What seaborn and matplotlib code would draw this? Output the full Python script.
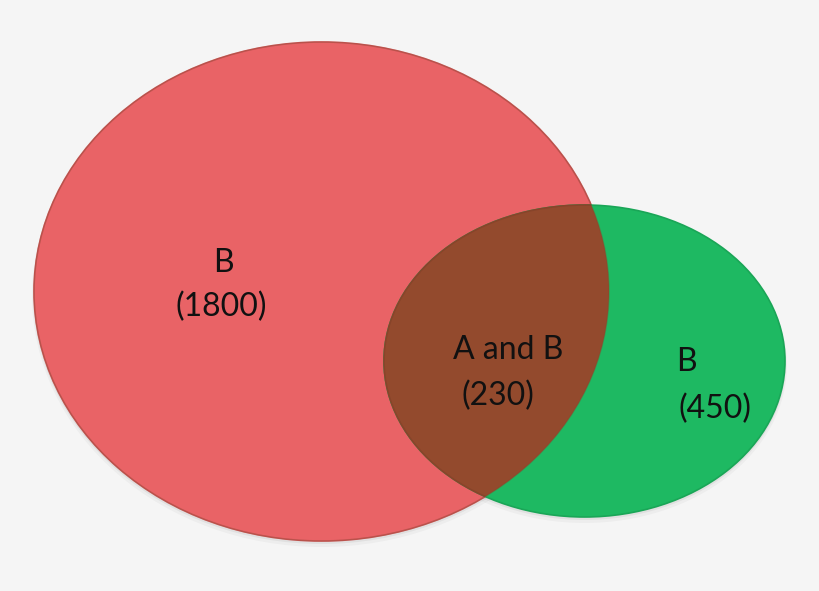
import matplotlib
matplotlib.use("Agg")
import matplotlib.pyplot as plt
from matplotlib.patches import Ellipse
import seaborn as sns

# ---- data ----
region_titles = ["B", "A and B", "B"]
region_counts = [1800, 230, 450]
region_colors = ["#E96366", "#934A2D", "#1EB962"]

# ---- layout constants (pixels) ----
W, H = 820, 591
red_geom = dict(xy=(321.5, 291.5), width=575, height=499)
green_geom = dict(xy=(584.5, 361.0), width=401, height=312)
# (title position, count position) per region, text baselines
title_pos = [(223, 272), (508, 359), (686, 371)]
count_pos = [(221, 316), (498, 405), (715, 418)]

sns.set_theme(style="white")
plt.rcParams["font.family"] = ["Lato", "DejaVu Sans"]

fig = plt.figure(figsize=(W / 100, H / 100), dpi=100)
fig.patch.set_facecolor("#F5F5F5")
ax = fig.add_axes([0, 0, 1, 1])
ax.set_facecolor("#F5F5F5")
ax.set_xlim(0, W)
ax.set_ylim(H, 0)
ax.axis("off")

# soft shadows
for g in (red_geom, green_geom):
    cx, cy = g["xy"]
    for k, a in ((4, 0.03), (2, 0.05)):
        ax.add_patch(Ellipse((cx, cy + k), g["width"] + k, g["height"] + k,
                             facecolor="#000000", alpha=a, edgecolor="none", zorder=1))

red = Ellipse(**red_geom, facecolor=region_colors[0], edgecolor="#d45a5d",
              linewidth=1.2, zorder=2)
ax.add_patch(red)
green = Ellipse(**green_geom, facecolor=region_colors[2], edgecolor="#1aa657",
                linewidth=1.2, zorder=3)
ax.add_patch(green)
overlap = Ellipse(**green_geom, facecolor=region_colors[1], edgecolor="#87442a",
                  linewidth=1.2, zorder=4)
ax.add_patch(overlap)
overlap.set_clip_path(red)
# faint red outline visible over green region
ax.add_patch(Ellipse(**red_geom, facecolor="none", edgecolor="#87442a",
                     linewidth=1.0, alpha=0.35, zorder=5))

for title, count, tp, cp in zip(region_titles, region_counts, title_pos, count_pos):
    ax.text(tp[0], tp[1], title, ha="center", va="baseline", fontsize=23,
            color="#111111", zorder=10)
    ax.text(cp[0], cp[1], f"({count})", ha="center", va="baseline", fontsize=23,
            color="#111111", zorder=10)

fig.savefig("out.png", dpi=100, facecolor=fig.get_facecolor())
